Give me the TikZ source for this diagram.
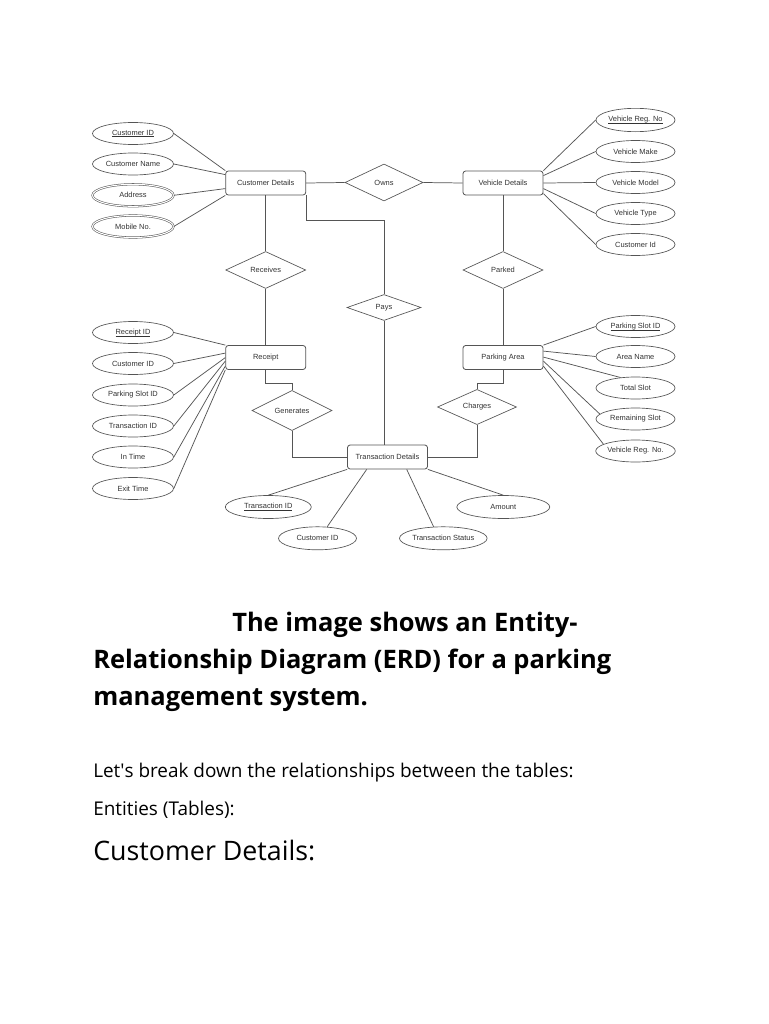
\documentclass[tikz,border=0pt]{standalone}
\usepackage{fontspec}
\setmainfont{Open Sans}
\newfontfamily\diagfont{Liberation Sans}
\usetikzlibrary{shapes.geometric,calc}
\definecolor{linec}{HTML}{555555}
\definecolor{txtc}{HTML}{333333}
\newcommand{\ulin}[1]{\setbox0\hbox{#1}\rlap{\rule[-1.2pt]{\wd0}{0.35pt}}\box0}
\begin{document}
\begin{tikzpicture}[x=0.75pt,y=-0.75pt,
  dtext/.style={font=\diagfont\fontsize{5.6}{6.5}\selectfont, text=txtc},
  ent/.style={dtext, draw=linec, line width=0.6pt, rounded corners=2pt, minimum width=60pt, minimum height=18pt, inner sep=0pt},
  att/.style={dtext, ellipse, draw=linec, line width=0.5pt, minimum width=60.75pt, minimum height=16.5pt, inner sep=0pt},
  datt/.style={att, double=white, double distance=0.8pt, line width=0.4pt},
  rel/.style={dtext, diamond, draw=linec, line width=0.5pt, inner sep=0pt},
  conn/.style={draw=linec, line width=0.55pt},
  head/.style={anchor=base west, inner sep=0pt, font=\bfseries\fontsize{19.1}{22}\selectfont},
  body/.style={anchor=base west, inner sep=0pt, font=\fontsize{14.2}{16}\selectfont},
  bigbody/.style={anchor=base west, inner sep=0pt, font=\fontsize{20.1}{23}\selectfont}
]
\useasboundingbox[fill=white] (0,0) rectangle (768,1024);

% entities
\node[ent] (cd) at (265.7,183) {Customer Details};
\node[ent] (vd) at (503,183) {Vehicle Details};
\node[ent] (rc) at (265.7,357.5) {Receipt};
\node[ent] (pa) at (503,357.5) {Parking Area};
\node[ent] (td) at (387.5,457) {Transaction Details};

% relationships
\node[rel, minimum width=58.5pt, minimum height=27.75pt] (owns) at (384,182.5) {Owns};
\node[rel, minimum width=60pt, minimum height=27.75pt] (recv) at (265.7,270) {Receives};
\node[rel, minimum width=60pt, minimum height=27.75pt] (park) at (503,270) {Parked};
\node[rel, minimum width=55.5pt, minimum height=19.5pt] (pays) at (384,307.5) {Pays};
\node[rel, minimum width=60pt, minimum height=23.25pt] (gen) at (292,410.5) {Generates};
\node[rel, minimum width=59.25pt, minimum height=19pt] (chg) at (477,407) {Charges};

% customer attributes
\node[att] (c1) at (133,133.5) {\ulin{Customer ID}};
\node[att] (c2) at (133,164) {Customer Name};
\node[datt] (c3) at (133,195.3) {Address};
\node[datt] (c4) at (133,226.5) {Mobile No.};

% vehicle attributes
\node[att, minimum width=59.25pt, minimum height=17.5pt] (v1) at (635.5,120) {\ulin{Vehicle Reg. No}};
\node[att, minimum width=59.25pt] (v2) at (635.5,151.5) {Vehicle Make};
\node[att, minimum width=59.25pt] (v3) at (635.5,182.5) {Vehicle Model};
\node[att, minimum width=59.25pt] (v4) at (635.5,213.5) {Vehicle Type};
\node[att, minimum width=59.25pt] (v5) at (635.5,244.5) {Customer Id};

% receipt attributes
\node[att] (r1) at (133,332.5) {\ulin{Receipt ID}};
\node[att] (r2) at (133,363.5) {Customer ID};
\node[att] (r3) at (133,395) {Parking Slot ID};
\node[att] (r4) at (133,426) {Transaction ID};
\node[att] (r5) at (133,457) {In Time};
\node[att] (r6) at (133,488.5) {Exit Time};

% parking area attributes
\node[att, minimum width=59.25pt] (p1) at (635.5,326.5) {\ulin{Parking Slot ID}};
\node[att, minimum width=59.25pt] (p2) at (635.5,356.5) {Area Name};
\node[att, minimum width=59.25pt] (p3) at (635.5,388) {Total Slot};
\node[att, minimum width=59.25pt] (p4) at (635.5,419) {Remaining Slot};
\node[att, minimum width=59.25pt] (p5) at (635.5,451) {Vehicle Reg. No.};

% transaction attributes
\node[att, minimum width=64.5pt, minimum height=17.25pt] (t1) at (268.3,507) {\ulin{Transaction ID}};
\node[att, minimum width=58.5pt, minimum height=17.25pt] (t2) at (317.5,538.3) {Customer ID};
\node[att, minimum width=60pt, minimum height=17.25pt] (t3) at (443.3,538.3) {Transaction Status};
\node[att, minimum width=69.75pt, minimum height=17.25pt] (t4) at (503.3,507) {Amount};

% relationship connectors
\draw[conn] (cd.east) -- (owns.west);
\draw[conn] (owns.east) -- (vd.west);
\draw[conn] (cd.south) -- (recv.north);
\draw[conn] (recv.south) -- (rc.north);
\draw[conn] (vd.south) -- (park.north);
\draw[conn] (park.south) -- (pa.north);
\draw[conn] (cd.south east) -- ++(0,25) -| (pays.north);
\draw[conn] (pays.south) -- (pays.south |- td.north);
\draw[conn] (rc.south) -- ++(0,13) -| (gen.north);
\draw[conn] (gen.south) |- (td.west);
\draw[conn] (pa.south) -- ++(0,13) -| (chg.north);
\draw[conn] (chg.south) |- (td.east);

% customer attribute connectors
\draw[conn] (c1.east) -- (cd.north west);
\draw[conn] (c2.east) -- ($(cd.north west)+(0,4)$);
\draw[conn] (c3.east) -- ($(cd.north west)+(0,18)$);
\draw[conn] (c4.east) -- (cd.south west);

% vehicle attribute connectors
\draw[conn] (v1.west) -- (vd.north east);
\draw[conn] (v2.west) -- ($(vd.north east)+(0,5)$);
\draw[conn] (v3.west) -- (vd.east);
\draw[conn] (v4.west) -- ($(vd.north east)+(0,18)$);
\draw[conn] (v5.west) -- ($(vd.north east)+(0,23)$);

% receipt attribute connectors
\draw[conn] (r1.east) -- (rc.north west);
\draw[conn] (r2.east) -- ($(rc.north west)+(0,8)$);
\draw[conn] (r3.east) -- ($(rc.north west)+(0,12.5)$);
\draw[conn] (r4.east) -- ($(rc.north west)+(0,16)$);
\draw[conn] (r5.east) -- ($(rc.north west)+(0,21)$);
\draw[conn] (r6.east) -- (rc.south west);

% parking attribute connectors
\draw[conn] (p1.west) -- (pa.north east);
\draw[conn] (p2.west) -- ($(pa.north east)+(0,6)$);
\draw[conn] (p3.145) -- ($(pa.north east)+(0,12)$);
\draw[conn] (p4.172) -- ($(pa.north east)+(0,16)$);
\draw[conn] (p5.168) -- ($(pa.north east)+(0,21)$);

% transaction attribute connectors
\draw[conn] (td.south west) -- (t1.north);
\draw[conn] ($(td.south west)+(19.6,0)$) -- (t2.50);
\draw[conn] ($(td.south west)+(59.6,0)$) -- (t3.130);
\draw[conn] (td.south east) -- (t4.north);

% text
\node[head] (l1) at (232,631) {The image shows an Entity-};
\node[head] (l2) at (93,668) {Relationship Diagram (ERD) for a parking};
\node[head] (l3) at (93,705) {management system.};
\node[body] (b1) at (93,777.3) {Let\textquotesingle s break down the relationships between the tables:};
\node[body] (b2) at (93,815.7) {Entities (Tables):};
\node[bigbody] (b3) at (93,860) {Customer Details:};
\end{tikzpicture}
\end{document}
